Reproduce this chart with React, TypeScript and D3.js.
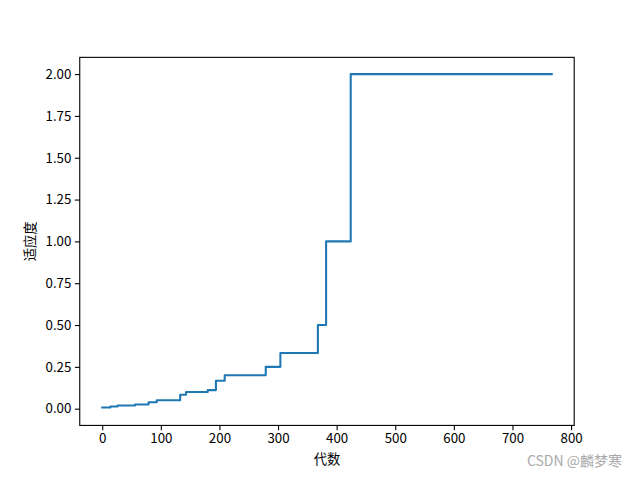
import React, { useEffect, useRef } from "react";
import * as d3 from "d3";

// Generations at which the best fitness changes, and the fitness from then on
const generations = [0, 14, 26, 56, 79, 93, 133, 143, 180, 194, 209, 279, 304, 368, 382, 424, 767];
const fitness = [0.007, 0.013, 0.019, 0.025, 0.038, 0.05, 0.083, 0.1, 0.111, 0.167, 0.2, 0.25, 0.333, 0.5, 1.0, 2.0, 2.0];
const xTicks = [0, 100, 200, 300, 400, 500, 600, 700, 800];
const yTicks = [0, 0.25, 0.5, 0.75, 1.0, 1.25, 1.5, 1.75, 2.0];
const xLabel = "代数";
const yLabel = "适应度";
const watermark = "CSDN @麟梦寒";

const W = 638;
const H = 478;
const FONT = "'Noto Sans CJK SC', 'DejaVu Sans', sans-serif";

export default function App() {
  const ref = useRef<SVGSVGElement>(null);

  useEffect(() => {
    document.body.style.margin = "0";
    const svg = d3.select(ref.current);
    svg.selectAll("*").remove();

    const left = 0.125 * W;
    const right = 0.9 * W;
    const top = H * 0.12;
    const bottom = H * 0.89;

    const xMin = d3.min(generations)!;
    const xMax = d3.max(generations)!;
    const xPad = (xMax - xMin) * 0.05;
    const yMin = 0;
    const yMax = d3.max(fitness)!;
    const yPad = (yMax - yMin) * 0.05;

    const x = d3.scaleLinear().domain([xMin - xPad, xMax + xPad]).range([left, right]);
    const y = d3.scaleLinear().domain([yMin - yPad, yMax + yPad]).range([bottom, top]);

    svg.append("rect").attr("width", W).attr("height", H).attr("fill", "white");

    const data = generations.map((g, i) => [g, fitness[i]] as [number, number]);
    const line = d3
      .line<[number, number]>()
      .x((d) => x(d[0]))
      .y((d) => y(d[1]))
      .curve(d3.curveStepAfter);

    svg
      .append("path")
      .datum(data)
      .attr("d", line)
      .attr("fill", "none")
      .attr("stroke", "#1f77b4")
      .attr("stroke-width", 2.08)
      .attr("stroke-linejoin", "round")
      .attr("stroke-linecap", "square");

    // Axes
    const xAxis = d3
      .axisBottom(x)
      .tickValues(xTicks)
      .tickSize(4.86)
      .tickPadding(3.5)
      .tickFormat((d) => String(d));
    const gx = svg.append("g").attr("transform", `translate(0,${bottom})`).call(xAxis);
    const yAxis = d3
      .axisLeft(y)
      .tickValues(yTicks)
      .tickSize(4.86)
      .tickPadding(3.5)
      .tickFormat(d3.format(".2f"));
    const gy = svg.append("g").attr("transform", `translate(${left},0)`).call(yAxis);

    [gx, gy].forEach((g) => {
      g.select(".domain").remove();
      g.selectAll(".tick line").attr("stroke", "black").attr("stroke-width", 1.1);
      g.selectAll(".tick text")
        .attr("font-family", FONT)
        .attr("font-size", 13.3)
        .attr("fill", "black");
    });

    // Spines
    svg
      .append("rect")
      .attr("x", left)
      .attr("y", top)
      .attr("width", right - left)
      .attr("height", bottom - top)
      .attr("fill", "none")
      .attr("stroke", "black")
      .attr("stroke-width", 1.1);

    svg
      .append("text")
      .attr("x", (left + right) / 2)
      .attr("y", 464)
      .attr("text-anchor", "middle")
      .attr("font-family", FONT)
      .attr("font-size", 13.3)
      .text(xLabel);

    svg
      .append("text")
      .attr("transform", `translate(35,${(top + bottom) / 2}) rotate(-90)`)
      .attr("text-anchor", "middle")
      .attr("font-family", FONT)
      .attr("font-size", 13.3)
      .text(yLabel);

    svg
      .append("text")
      .attr("x", 622)
      .attr("y", 466)
      .attr("text-anchor", "end")
      .attr("font-family", FONT)
      .attr("font-size", 14)
      .attr("fill", "#aaaaaa")
      .text(watermark);
  }, []);

  return (
    <svg
      ref={ref}
      width={W}
      height={H}
      style={{ position: "absolute", left: 0, top: 0, display: "block" }}
    />
  );
}
